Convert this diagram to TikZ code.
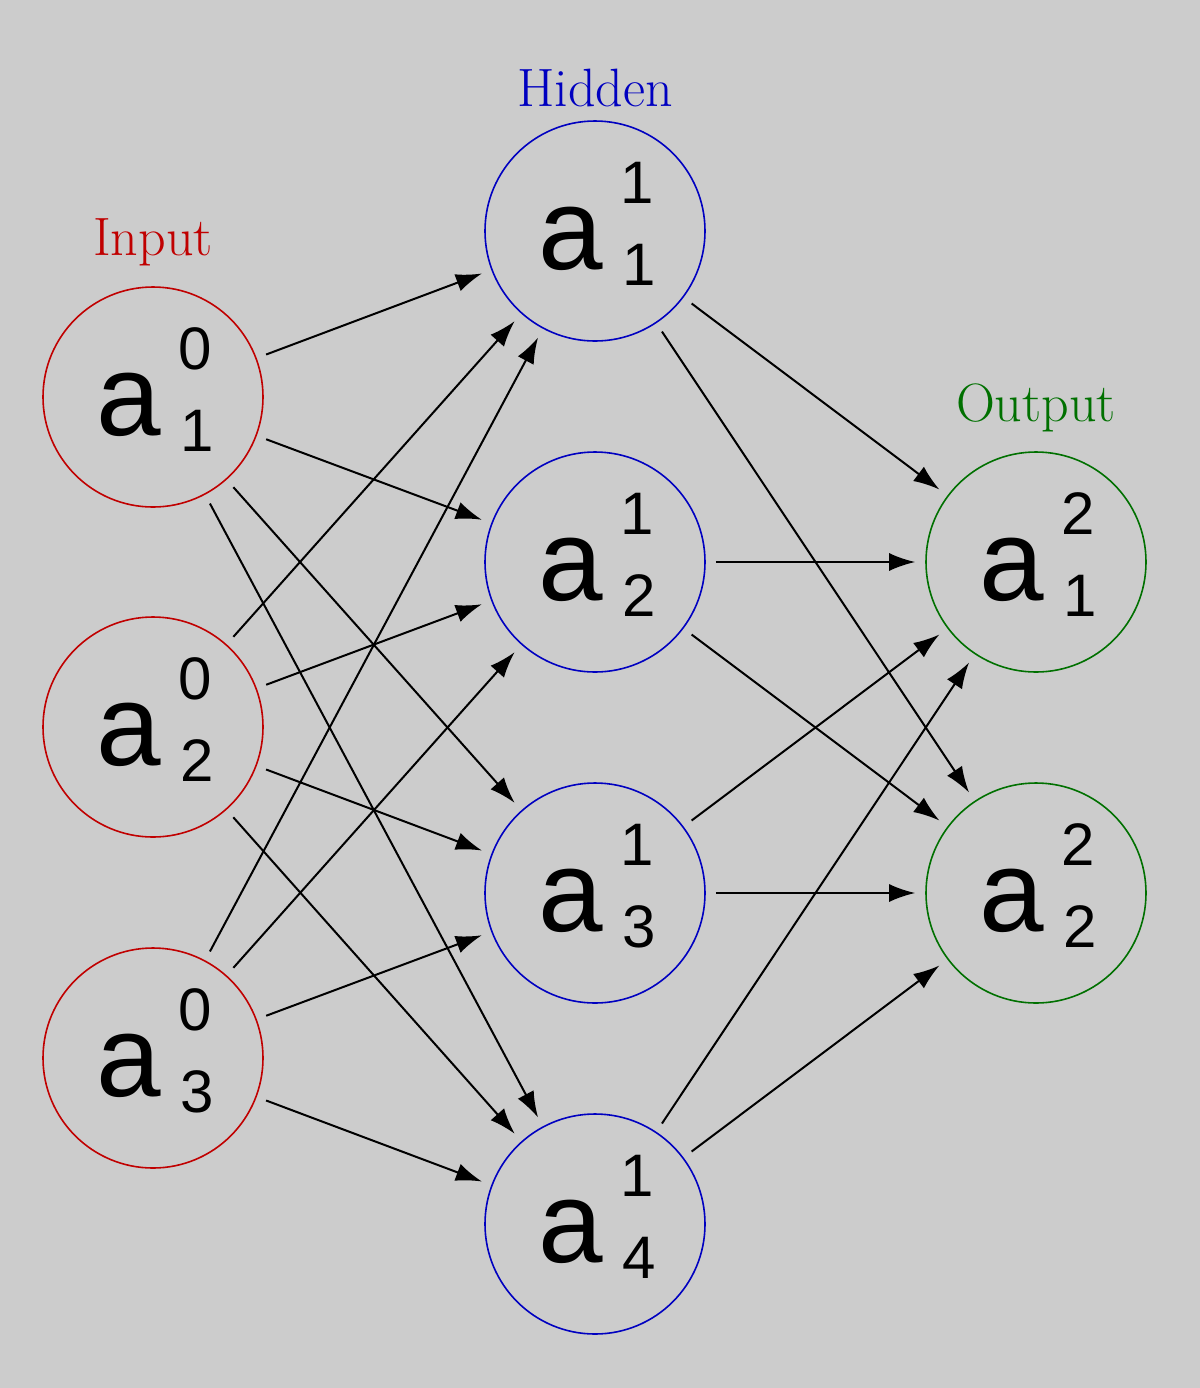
\documentclass[tikz,border=0pt]{standalone}
\usepackage{fontspec}
\newfontfamily\arialf{Liberation Sans}
\usetikzlibrary{arrows.meta,calc}
\definecolor{bg}{RGB}{204,204,204}
\definecolor{cin}{RGB}{192,0,0}
\definecolor{chid}{RGB}{0,0,192}
\definecolor{cout}{RGB}{0,112,0}
\newcommand\mkneuron[6]{%
  \node[neuron,draw=#4] (#1) at (#2,#3) {};
  \node[bigA] (#1a) at ($(#1)+(-24,8)$) {a};
  \node[digit] (#1s) at ($(#1)+(42,-48)$) {#5};
  \node[digit] (#1b) at ($(#1)+(44,34)$) {#6};
}
\begin{document}
\begin{tikzpicture}[x=0.5pt,y=-0.5pt,
  neuron/.style={circle,minimum size=110pt,inner sep=0pt,line width=0.8pt},
  bigA/.style={font=\arialf\fontsize{58}{58}\selectfont,inner sep=0pt},
  digit/.style={font=\arialf\fontsize{30}{30}\selectfont,inner sep=0pt},
  ttl/.style={font=\fontsize{27}{27}\selectfont},
  edge/.style={line width=1pt,-{Latex[length=13pt,width=9pt]},shorten <=5pt,shorten >=5pt}]
\fill[bg] (0,0) rectangle (1200,1388);
\useasboundingbox (0,0) rectangle (1200,1388);
\mkneuron{i1}{153}{397}{cin}{0}{1}
\mkneuron{i2}{153}{727}{cin}{0}{2}
\mkneuron{i3}{153}{1058}{cin}{0}{3}
\mkneuron{h1}{595}{231}{chid}{1}{1}
\mkneuron{h2}{595}{562}{chid}{1}{2}
\mkneuron{h3}{595}{893}{chid}{1}{3}
\mkneuron{h4}{595}{1224}{chid}{1}{4}
\mkneuron{o1}{1036}{562}{cout}{2}{1}
\mkneuron{o2}{1036}{893}{cout}{2}{2}
\node[ttl,text=cin] (tin) at (153,242) {Input};
\node[ttl,text=chid] (thid) at (595,88) {Hidden};
\node[ttl,text=cout] (tout) at (1036,408) {Output};
\foreach \i in {i1,i2,i3}{\foreach \h in {h1,h2,h3,h4}{\draw[edge] (\i) -- (\h);}}
\foreach \h in {h1,h2,h3,h4}{\foreach \o in {o1,o2}{\draw[edge] (\h) -- (\o);}}
\end{tikzpicture}
\end{document}
